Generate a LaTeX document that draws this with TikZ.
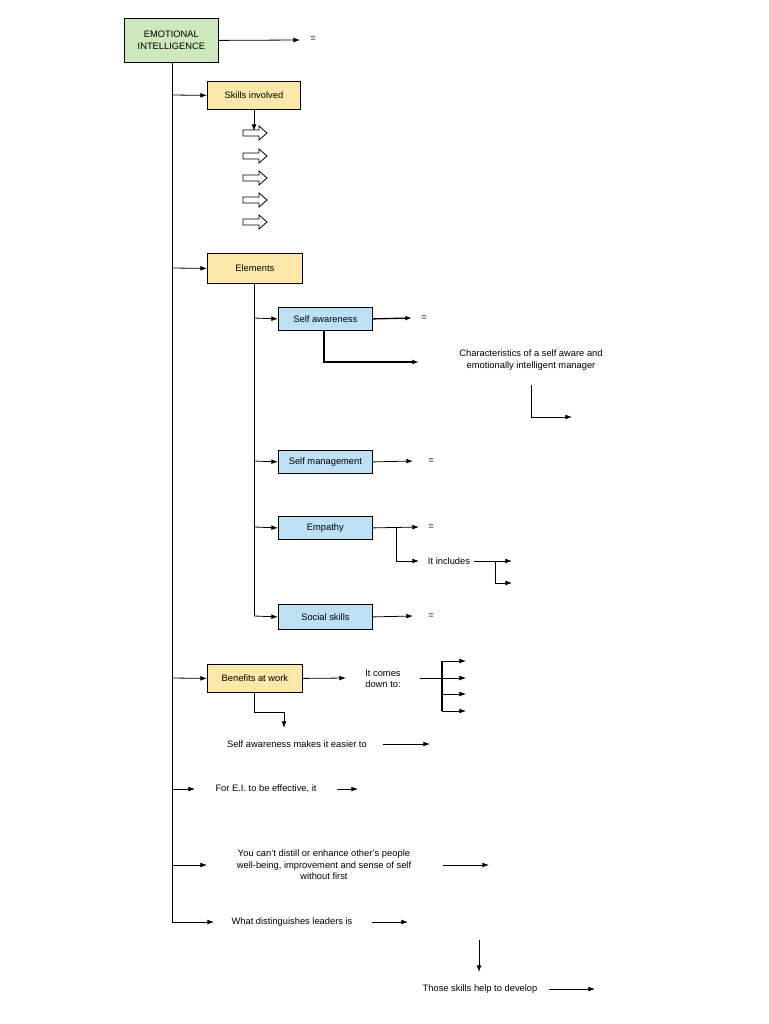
\documentclass[tikz,border=0pt]{standalone}
\usepackage{fontspec}
\setmainfont{Liberation Sans}
\usetikzlibrary{arrows.meta}
\definecolor{gbox}{HTML}{CCE8BC}
\definecolor{ybox}{HTML}{FCE9A9}
\definecolor{bbox}{HTML}{BDE0F5}
\begin{document}
\begin{tikzpicture}[x=0.75pt,y=-0.75pt,
  font=\fontsize{7}{8.6}\selectfont,
  box/.style={draw,line width=0.6pt,minimum height=#1*0.75pt,inner sep=0pt,anchor=north west},
  arr/.style={-{Latex[length=5pt,width=3.6pt]},line width=0.6pt},
  ln/.style={line width=0.6pt},
  txt/.style={inner sep=1pt,align=center}]
\useasboundingbox (0,0) rectangle (768,1024);
% boxes
\node[box=44,fill=gbox,minimum width=70.5pt,align=center] (ei) at (124,18) {EMOTIONAL\\INTELLIGENCE};
\node[box=28,fill=ybox,minimum width=69.75pt] (sk) at (207,81) {Skills involved};
\node[box=30,fill=ybox,minimum width=71.25pt] (el) at (207,253) {Elements};
\node[box=23,fill=bbox,minimum width=70.5pt] (sa) at (278,307) {Self awareness};
\node[box=23,fill=bbox,minimum width=70.5pt] (sm) at (278,450) {Self management};
\node[box=23,fill=bbox,minimum width=70.5pt] (em) at (278,516) {Empathy};
\node[box=25,fill=bbox,minimum width=70.5pt] (ss) at (278,604) {Social skills};
\node[box=28,fill=ybox,minimum width=71.25pt] (bw) at (207,664) {Benefits at work};
% texts
\node[txt] (eq0) at (313,39) {=};
\node[txt] (eq1) at (424,318) {=};
\node[txt] (eq2) at (431,461) {=};
\node[txt] (eq3) at (431,527) {=};
\node[txt] (eq4) at (431,616) {=};
\node[txt] (ch) at (531,360) {Characteristics of a self aware and\\emotionally intelligent manager};
\node[txt] (inc) at (449,561) {It includes};
\node[txt,align=left] (cd) at (383,679) {It comes\\down to:};
\node[txt] (t1) at (297,744) {Self awareness makes it easier to};
\node[txt] (t2) at (266,789) {For E.I. to be effective, it};
\node[txt] (t3) at (324,865) {You can't distill or enhance other's people\\well-being, improvement and sense of self\\without first};
\node[txt] (t4) at (292,922) {What distinguishes leaders is};
\node[txt] (t5) at (480,989) {Those skills help to develop};
% coordinates
\coordinate (trunkEnd) at (172,922);
\coordinate (subEnd) at (254,616);
% main trunk
\draw[ln] (ei.south -| trunkEnd) -- (trunkEnd);
\draw[arr] (ei.east) -- (300,40);
\draw[arr] (172,95) -- (sk.west);
\draw[arr] (172,268) -- (el.west);
\draw[arr] (172,678) -- (bw.west);
\draw[arr] (172,789) -- (195,789);
\draw[arr] (172,865) -- (207,865);
\draw[arr] (trunkEnd) -- (214,922);
% skills
\draw[arr] (254,109) -- (254,131);
\foreach \yy in {133,156,178,200,222}{
  \draw[line width=0.6pt,fill=white] (243,\yy-3) -- (259,\yy-3) -- (259,\yy-7) -- (267,\yy) -- (259,\yy+7) -- (259,\yy+3) -- (243,\yy+3) -- cycle;}
% elements
\draw[ln] (254,283) -- (subEnd);
\draw[arr] (254,318) -- (sa.west);
\draw[arr] (254,461) -- (sm.west);
\draw[arr] (254,527) -- (em.west);
\draw[arr] (subEnd) -- (ss.west);
\draw[arr,line width=1pt] (sa.east) -- (412,318);
\draw[arr,line width=1pt] (324,330) -- (324,362) -- (419,362);
\draw[arr] (531,385) -- (531,417) -- (572,417);
\draw[arr] (sm.east) -- (413,461);
\draw[arr] (em.east) -- (419,527);
\draw[arr] (396,527) -- (396,561) -- (419,561);
\draw[arr] (474,561) -- (512,561);
\draw[arr] (495,561) -- (495,583) -- (512,583);
\draw[arr] (ss.east) -- (413,616);
% benefits
\draw[arr] (bw.east) -- (346,678);
\draw[ln] (420,678) -- (442,678);
\draw[line width=1.2pt] (442,661) -- (442,711);
\foreach \yy in {661,678,694,711}{\draw[arr] (442,\yy) -- (466,\yy);}
\draw[arr] (254,692) -- (254,712) -- (284,712) -- (284,728);
\draw[arr] (383,744) -- (430,744);
\draw[arr] (337,789) -- (358,789);
\draw[arr] (443,865) -- (489,865);
\draw[arr] (372,922) -- (408,922);
\draw[arr] (479,940) -- (479,972);
\draw[arr] (549,989) -- (595,989);
\end{tikzpicture}
\end{document}
